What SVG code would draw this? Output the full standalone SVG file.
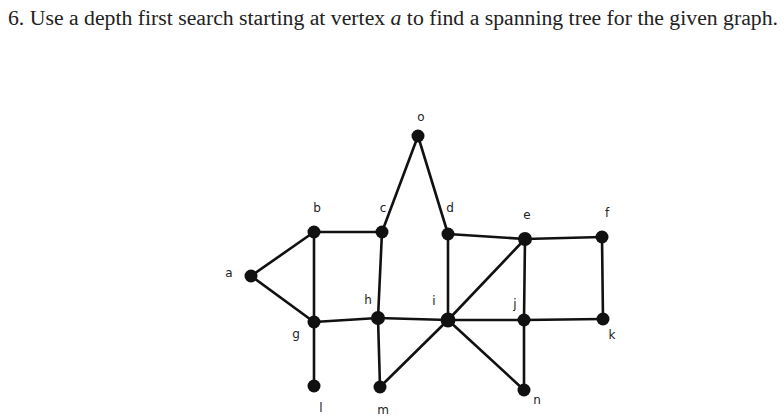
<svg xmlns="http://www.w3.org/2000/svg" width="784" height="418" viewBox="0 0 784 418">
<style>
.e{stroke:#111;stroke-width:2.6;stroke-linecap:round}
.n{fill:#111}
.l{font-family:"DejaVu Sans","Liberation Sans",sans-serif;font-size:12px;fill:#222;text-anchor:middle}
.t{font-family:"Liberation Serif",serif;font-size:20px;fill:#222}
</style>
<rect width="784" height="418" fill="#fff"/>
<text class="t" x="8" y="25" textLength="770" lengthAdjust="spacingAndGlyphs">6.  Use a depth first search starting at vertex <tspan font-style="italic">a</tspan> to find a spanning tree for the given graph.</text>
<g id="edges">
<line class="e" x1="251" y1="276" x2="314" y2="232"/>
<line class="e" x1="251" y1="276" x2="314" y2="322"/>
<line class="e" x1="314" y1="232" x2="382" y2="232"/>
<line class="e" x1="314" y1="232" x2="314" y2="322"/>
<line class="e" x1="382" y1="232" x2="378" y2="318"/>
<line class="e" x1="382" y1="232" x2="418" y2="136"/>
<line class="e" x1="418" y1="136" x2="448" y2="234"/>
<line class="e" x1="448" y1="234" x2="525" y2="239"/>
<line class="e" x1="448" y1="234" x2="448" y2="320"/>
<line class="e" x1="525" y1="239" x2="602" y2="237"/>
<line class="e" x1="525" y1="239" x2="448" y2="320"/>
<line class="e" x1="525" y1="239" x2="524" y2="320"/>
<line class="e" x1="602" y1="237" x2="603" y2="319"/>
<line class="e" x1="314" y1="322" x2="378" y2="318"/>
<line class="e" x1="314" y1="322" x2="314" y2="386"/>
<line class="e" x1="378" y1="318" x2="448" y2="320"/>
<line class="e" x1="378" y1="318" x2="380" y2="387"/>
<line class="e" x1="448" y1="320" x2="380" y2="387"/>
<line class="e" x1="448" y1="320" x2="524" y2="320"/>
<line class="e" x1="448" y1="320" x2="524" y2="390"/>
<line class="e" x1="524" y1="320" x2="603" y2="319"/>
<line class="e" x1="524" y1="320" x2="524" y2="390"/>
</g>
<g id="node-a"><circle class="n" cx="251" cy="276" r="6.5"/><text class="l" x="229" y="277">a</text></g>
<g id="node-b"><circle class="n" cx="314" cy="232" r="6.5"/><text class="l" x="317" y="212">b</text></g>
<g id="node-c"><circle class="n" cx="382" cy="232" r="6.5"/><text class="l" x="383" y="212">c</text></g>
<g id="node-d"><circle class="n" cx="448" cy="234" r="6.5"/><text class="l" x="450" y="212">d</text></g>
<g id="node-e"><circle class="n" cx="525" cy="239" r="7"/><text class="l" x="527" y="219">e</text></g>
<g id="node-f"><circle class="n" cx="602" cy="237" r="6.5"/><text class="l" x="607" y="217">f</text></g>
<g id="node-o"><circle class="n" cx="418" cy="136" r="6.5"/><text class="l" x="421" y="121">o</text></g>
<g id="node-g"><circle class="n" cx="314" cy="322" r="6.5"/><text class="l" x="296" y="338">g</text></g>
<g id="node-h"><circle class="n" cx="378" cy="318" r="7"/><text class="l" x="368" y="304">h</text></g>
<g id="node-i"><circle class="n" cx="448" cy="320" r="7.5"/><text class="l" x="434" y="305">i</text></g>
<g id="node-j"><circle class="n" cx="524" cy="320" r="6.5"/><text class="l" x="515" y="308">j</text></g>
<g id="node-k"><circle class="n" cx="603" cy="319" r="6.5"/><text class="l" x="612" y="339">k</text></g>
<g id="node-l"><circle class="n" cx="314" cy="386" r="6.5"/><text class="l" x="321" y="412">l</text></g>
<g id="node-m"><circle class="n" cx="380" cy="387" r="6.5"/><text class="l" x="383" y="414">m</text></g>
<g id="node-n"><circle class="n" cx="524" cy="390" r="6.5"/><text class="l" x="537" y="404">n</text></g>
</svg>
